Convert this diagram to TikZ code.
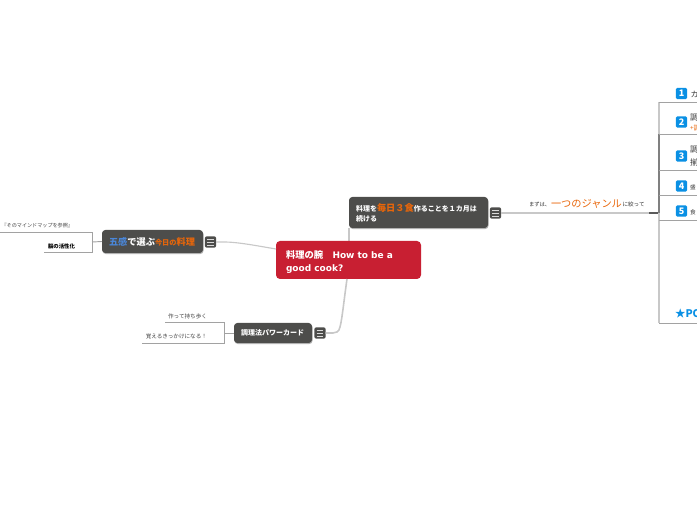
\documentclass[tikz,border=0pt]{standalone}
\usepackage{fontspec}
\usetikzlibrary{shadows}
\setmainfont{Noto Sans CJK JP}
\newfontfamily\lat{DejaVu Sans}
\newcommand{\px}[1]{\fontsize{\fpeval{#1*0.75}pt}{\fpeval{#1*1.0}pt}\selectfont}
\definecolor{cred}{HTML}{C81F32}
\definecolor{cdark}{HTML}{4D4D4B}
\definecolor{corange}{HTML}{E8660A}
\definecolor{cblue}{HTML}{4A86D8}
\definecolor{cicon}{HTML}{0A90E4}
\definecolor{cline}{HTML}{C8C8C8}
\definecolor{cline2}{HTML}{A2A2A2}
\definecolor{cmid}{HTML}{808080}
\definecolor{cdeep}{HTML}{5A5A5A}
\tikzset{
  x=0.75pt,y=-0.75pt,
  every node/.style={inner sep=0pt,outer sep=0pt},
  rootbox/.style={fill=cred,rounded corners=3pt,anchor=north west,text=white,align=left,font=\bfseries\px{9.3}},
  mainbox/.style={fill=cdark,rounded corners=2.5pt,anchor=north west,text=white,align=left,
    drop shadow={shadow xshift=0.4pt,shadow yshift=-0.8pt,opacity=.3,fill=black}},
  menubox/.style={fill=cdark,rounded corners=1.5pt,minimum size=8.5pt},
  conn/.style={draw=cline,line width=0.85pt},
  connthin/.style={draw=cline2,line width=0.7pt},
  conndark/.style={draw=cdeep,line width=1pt},
  smalltxt/.style={anchor=east,text=black!75,font=\px{5.6}},
  numbox/.style={fill=cicon,rounded corners=1.2pt,minimum size=8.6pt,text=white,font=\bfseries\px{9}},
  cuttxt/.style={anchor=west,text=black!80,font=\px{8}},
}
\newcommand{\menulines}[1]{%
  \foreach \d in {-2.2,0,2.2}{\draw[white!85!black,line width=0.4pt] ([xshift=-2.6pt,yshift=\d pt]#1.center) -- ([xshift=2.6pt,yshift=\d pt]#1.center);}}
\begin{document}
\begin{tikzpicture}
\useasboundingbox (0,0) rectangle (697,520);
\clip (0,0) rectangle (697,520);
\coordinate (redge) at (697,0);
\coordinate (vtop) at (659,102);
\coordinate (vb1) at (659,134);
\coordinate (vb2) at (659,170);
\coordinate (vb3) at (659,195);
\coordinate (vjoin) at (659,213);
\coordinate (vb5) at (659,220);
\coordinate (vbot) at (659,323);
\coordinate (ejoin) at (649,213);
% connector behind the nodes
\draw[conn] (349,228) -- (349,245);
\node[rootbox,minimum width=108.75pt,minimum height=28.5pt,text width=93.75pt,inner xsep=7.5pt] (root) at (276,241)
  {\rule{0pt}{9pt}料理の腕　{\lat\px{9}How to be a}\\{\lat\px{9}good cook?}};
\node[mainbox,minimum width=104.25pt,minimum height=23.25pt,text width=93.75pt,inner xsep=5.25pt] (top) at (349,197)
  {\bfseries\px{7}料理を{\color{corange}\px{9.2}毎日３食}作ることを１カ月は\\[-4.5pt]続ける};
\node[mainbox,minimum width=75.75pt,minimum height=17.25pt,text width=65.25pt,inner xsep=5.25pt] (left) at (102,230)
  {\bfseries\px{9.2}{\color{cblue}五感}で選ぶ{\color{corange}\px{7.2}今日の}{\color{corange}料理}};
\node[mainbox,minimum width=58.5pt,minimum height=15pt,text width=48pt,inner xsep=5.25pt] (bot) at (234,323)
  {\bfseries\px{7}調理法パワーカード};
\node[menubox] (mtop) at (495.5,213) {};
\node[menubox] (mleft) at (210.5,242) {};
\node[menubox] (mbot) at (320,333) {};
\menulines{mtop}\menulines{mleft}\menulines{mbot}
% root links
\draw[conn] (root.west |- 0,249) .. controls (258,246) and (238,242) .. (224,242) -- (mleft.east);
\draw[conn,line width=1.2pt] (347,279) .. controls (344,300) and (342,320) .. (340,327) .. controls (339,332) and (336,333) .. (333,333) -- (mbot.east);
% right branch
\draw[conn] (mtop.east) -- (ejoin);
\draw[conndark] (ejoin) -- (vjoin);
\draw[conn,line width=1pt] (vtop) -- (vb1);
\draw[draw=cmid,line width=1pt] (vb1) -- (vjoin);
\draw[conn,line width=1pt] (vjoin) -- (vbot);
\foreach \c in {vtop,vb1,vb2,vb3,vb5,vbot}{\draw[connthin] (\c) -- (\c -| redge);}
% right labels
\node[anchor=base west,text=black!80,font=\px{5.3}] (g1) at (529,207) {まずは、};
\node[anchor=base west,text=corange,font=\px{10.2}] (g2) at (551,207.5) {一つのジャンル};
\node[anchor=base west,text=black!80,font=\px{5.6}] (g3) at (622.5,207) {に絞って};
\node[numbox] (n1) at (681.5,93.5) {1};
\node[numbox] (n2) at (681.5,122) {2};
\node[numbox] (n3) at (681.5,156) {3};
\node[numbox] (n4) at (681.5,186) {4};
\node[numbox] (n5) at (681.5,211) {5};
\node[cuttxt] (t1) at (690.5,94) {カ};
\node[cuttxt] (t2a) at (690,118) {調};
\node[anchor=west,text=corange,font=\px{6.5}] (t2b) at (690,128) {+調};
\node[cuttxt] (t3a) at (690,150) {調};
\node[cuttxt] (t3b) at (690,162) {揃};
\node[anchor=west,text=black!80,font=\px{5.6}] (t4) at (690,187) {盛};
\node[anchor=west,text=black!80,font=\px{5.6}] (t5) at (690,212) {食};
\node[anchor=west,text=cicon,font=\bfseries\px{10.5}] (pt) at (675,313.5) {★PO};
% left branch
\coordinate (lbr) at (92,242);
\coordinate (ltop) at (92,232);
\coordinate (lbot) at (92,252);
\coordinate (lt0) at (0,232);
\coordinate (lb0) at (44,252);
\draw[connthin] (left.west) -- (lbr);
\draw[connthin] (lt0) -- (ltop) -- (lbot) -- (lb0);
\node[smalltxt,font=\px{5.1}] (s1) at (73,225.5) {『そのマインドマップを参照』};
\node[anchor=center,text=black,font=\bfseries\px{5.4}] (s2) at (61.5,246.5) {脳の活性化};
% bottom branch
\coordinate (bbr) at (224,333);
\coordinate (btop) at (224,322.5);
\coordinate (bbot) at (224,343);
\coordinate (bt0) at (165,322.5);
\coordinate (bb0) at (142,343);
\draw[connthin] (bot.west) -- (bbr);
\draw[connthin] (bt0) -- (btop) -- (bbot) -- (bb0);
\node[smalltxt] (s3) at (207,316.5) {作って持ち歩く};
\node[smalltxt] (s4) at (207,336.5) {覚えるきっかけになる！};
\end{tikzpicture}
\end{document}
